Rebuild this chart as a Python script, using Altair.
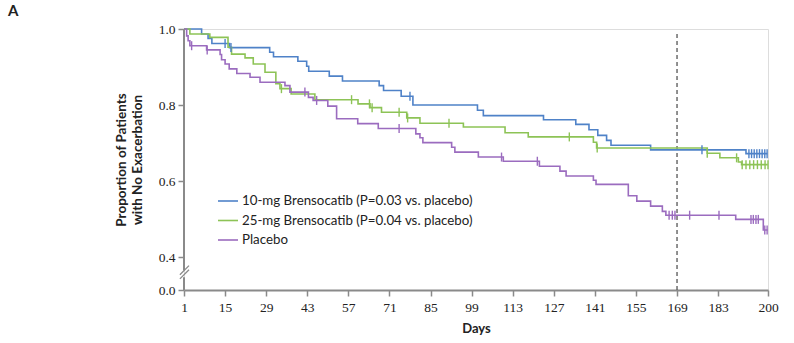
import altair as alt
import pandas as pd

# ---------------- data ----------------
groups = ["10-mg Brensocatib (P=0.03 vs. placebo)",
          "25-mg Brensocatib (P=0.04 vs. placebo)",
          "Placebo"]
colors = ["#4f82c8", "#8dc356", "#9b6cbf"]

blue_days = [1, 7, 9.2, 10.5, 16.5, 30.2, 31.5, 39.8, 42.8, 43.5, 50.5, 55, 67.5, 69,
             75, 79, 101, 103, 123.5, 134.5, 139, 142, 145, 146.5, 160, 192.5, 199.8]
blue_vals = [1.0, 0.987, 0.975, 0.962, 0.951, 0.939, 0.927, 0.915, 0.902, 0.889, 0.876, 0.863, 0.851, 0.838,
             0.823, 0.800, 0.786, 0.772, 0.761, 0.749, 0.735, 0.720, 0.707, 0.694, 0.682, 0.672, 0.672]
blue_censor = [15, 17, 78, 177.5, 193.5, 194.4, 195.3, 196.2, 197.1, 198.0, 198.9, 199.7]

green_days = [1, 3, 9.8, 16, 17.2, 21.8, 24.6, 28.6, 32.3, 33.7, 37.5, 45.6, 60.3, 64.4, 68.3,
              76.9, 81.4, 96.2, 110.4, 118.3, 140.5, 141.6, 179.3, 183.6, 189.9, 191, 199.9]
green_vals = [1.0, 0.987, 0.978, 0.952, 0.934, 0.924, 0.908, 0.886, 0.856, 0.843, 0.829, 0.814, 0.803, 0.793, 0.781,
              0.766, 0.752, 0.742, 0.727, 0.716, 0.702, 0.687, 0.673, 0.661, 0.650, 0.643, 0.643]
green_censor = [34.2, 58.1, 64.2, 65.1, 74.3, 77.2, 91.3, 132.3, 141.8, 179.3, 189.3,
                191.2, 192.5, 193.8, 195.1, 196.4, 197.7, 199.0, 200]

purple_days = [1, 1.9, 2.4, 3, 8.7, 13.3, 13.8, 15, 16.4, 19, 23.5, 26.9, 35.4, 37.1, 43.4, 45, 50, 53,
               60.2, 67.2, 80, 81.4, 82.4, 92.2, 93.3, 101.3, 109.8, 122.1, 129.1, 131.2, 140.5, 141.4,
               152.4, 155.3, 160, 164, 165.2, 189, 198.4, 199.9]
purple_vals = [1.0, 0.982, 0.969, 0.956, 0.945, 0.933, 0.919, 0.908, 0.895, 0.883, 0.873, 0.860, 0.851, 0.834, 0.820, 0.812, 0.797, 0.764,
               0.751, 0.738, 0.724, 0.714, 0.701, 0.689, 0.676, 0.663, 0.652, 0.639, 0.626, 0.613, 0.602, 0.591,
               0.561, 0.547, 0.534, 0.520, 0.510, 0.499, 0.471, 0.471]
purple_censor = [3.6, 8.9, 42.2, 46.2, 74.3, 109.2, 121.4, 166.3, 167.4, 168.3, 173.3, 183.3,
                 194.2, 195.0, 195.9, 196.7, 198.9, 199.7]

x_ticks = [1, 15, 29, 43, 57, 71, 85, 99, 113, 127, 141, 155, 169, 183, 200]
y_ticks = [0.0, 0.4, 0.6, 0.8, 1.0]
cutoff_day = [169]
panel_label = ["A"]

# axis break decoration (data units)
yaxis_segments = {"y0": [1.0, 0.155], "y1": [0.235, 0.0]}
break_marks = {"x0": [-0.4, -0.4], "x1": [2.7, 2.7], "y0": [0.135, 0.185], "y1": [0.245, 0.295]}

# ---------------- build tables ----------------
def step_lookup(days, vals, t):
    v = vals[0]
    for d, vv in zip(days, vals):
        if d <= t:
            v = vv
    return v

series = [(groups[0], blue_days, blue_vals, blue_censor),
          (groups[1], green_days, green_vals, green_censor),
          (groups[2], purple_days, purple_vals, purple_censor)]

curve_rows, censor_rows = [], []
for name, ds, vs, cs in series:
    for d, v in zip(ds, vs):
        curve_rows.append({"day": d, "p": v, "group": name})
    for c in cs:
        censor_rows.append({"day": c, "p": step_lookup(ds, vs, c), "group": name})
curves = pd.DataFrame(curve_rows)
censors = pd.DataFrame(censor_rows)

W, H = 584, 261
AX = "#8a8a8a"
xscale = alt.Scale(domain=[1, 200], nice=False, zero=False)
yscale = alt.Scale(domain=[0.0, 0.4, 1.0], range=[H, H - 33, 0], nice=False, zero=False)
cscale = alt.Scale(domain=groups, range=colors)

xaxis = alt.Axis(values=x_ticks, title="Days", grid=False, domain=True, domainColor=AX, domainWidth=2,
                 tickColor=AX, tickWidth=1.5, tickSize=6, labelFont="Liberation Serif", labelFontSize=13.5,
                 labelColor="#222", labelPadding=4, labelFlush=False, titleFont="Lato", titleFontSize=13,
                 titleFontWeight="bold", titleColor="#222", titlePadding=9)
yaxis = alt.Axis(values=y_ticks, format=".1f", grid=False, domain=False, tickColor=AX, tickWidth=1.5, tickSize=6,
                 labelFont="Liberation Serif", labelFontSize=13.5, labelColor="#222", labelPadding=3,
                 labelFlush=False,
                 title=["Proportion of Patients", "with No Exacerbation"], titleFont="Lato", titleFontSize=13.5,
                 titleFontWeight="bold", titleColor="#222", titleAngle=-90, titleAlign="center",
                 titleBaseline="top", titleX=-70, titleY=H / 2, titleLineHeight=16)

lines = alt.Chart(curves).mark_line(interpolate="step-after", strokeWidth=1.6).encode(
    x=alt.X("day:Q", scale=xscale, axis=xaxis),
    y=alt.Y("p:Q", scale=yscale, axis=yaxis),
    color=alt.Color("group:N", scale=cscale, sort=groups,
                    legend=alt.Legend(title=None, orient="none", legendX=33, legendY=161, symbolType="stroke",
                                      symbolSize=400, symbolStrokeWidth=1.6, labelFont="Lato", labelFontSize=13.3,
                                      labelColor="#222", rowPadding=1.5, labelOffset=3, padding=0,
                                      labelLimit=400)),
)

ticks = alt.Chart(censors).mark_tick(orient="vertical", size=9, thickness=1.4, opacity=1).encode(
    x=alt.X("day:Q", scale=xscale),
    y=alt.Y("p:Q", scale=yscale),
    color=alt.Color("group:N", scale=cscale, legend=None),
)

cut = alt.Chart(pd.DataFrame({"day": cutoff_day, "y0": [0.0], "y1": [0.99]})).mark_rule(
    color="#555", strokeDash=[4, 3], strokeWidth=1.3).encode(
    x=alt.X("day:Q", scale=xscale), y=alt.Y("y0:Q", scale=yscale), y2="y1:Q")

yline = alt.Chart(pd.DataFrame({"day": [1, 1], **yaxis_segments})).mark_rule(
    color=AX, strokeWidth=2).encode(
    x=alt.X("day:Q", scale=xscale), y=alt.Y("y0:Q", scale=yscale), y2="y1:Q")

brk = alt.Chart(pd.DataFrame(break_marks)).mark_rule(color=AX, strokeWidth=1.3).encode(
    x=alt.X("x0:Q", scale=xscale), x2="x1:Q", y=alt.Y("y0:Q", scale=yscale), y2="y1:Q")

label_a = alt.Chart(pd.DataFrame({"t": panel_label})).mark_text(
    font="Lato", fontSize=15, fontWeight="bold", color="#222", align="left", baseline="middle").encode(
    text="t:N", x=alt.value(-176), y=alt.value(-18))

chart = alt.layer(cut, lines, ticks, yline, brk, label_a).properties(
    width=W, height=H,
    autosize=alt.AutoSizeParams(type="none"),
    padding={"left": 184, "top": 29, "right": 26, "bottom": 53},
).configure_view(stroke=None).configure(background="white")

chart.save("out.html", embed_options={"renderer": "svg", "actions": False})
